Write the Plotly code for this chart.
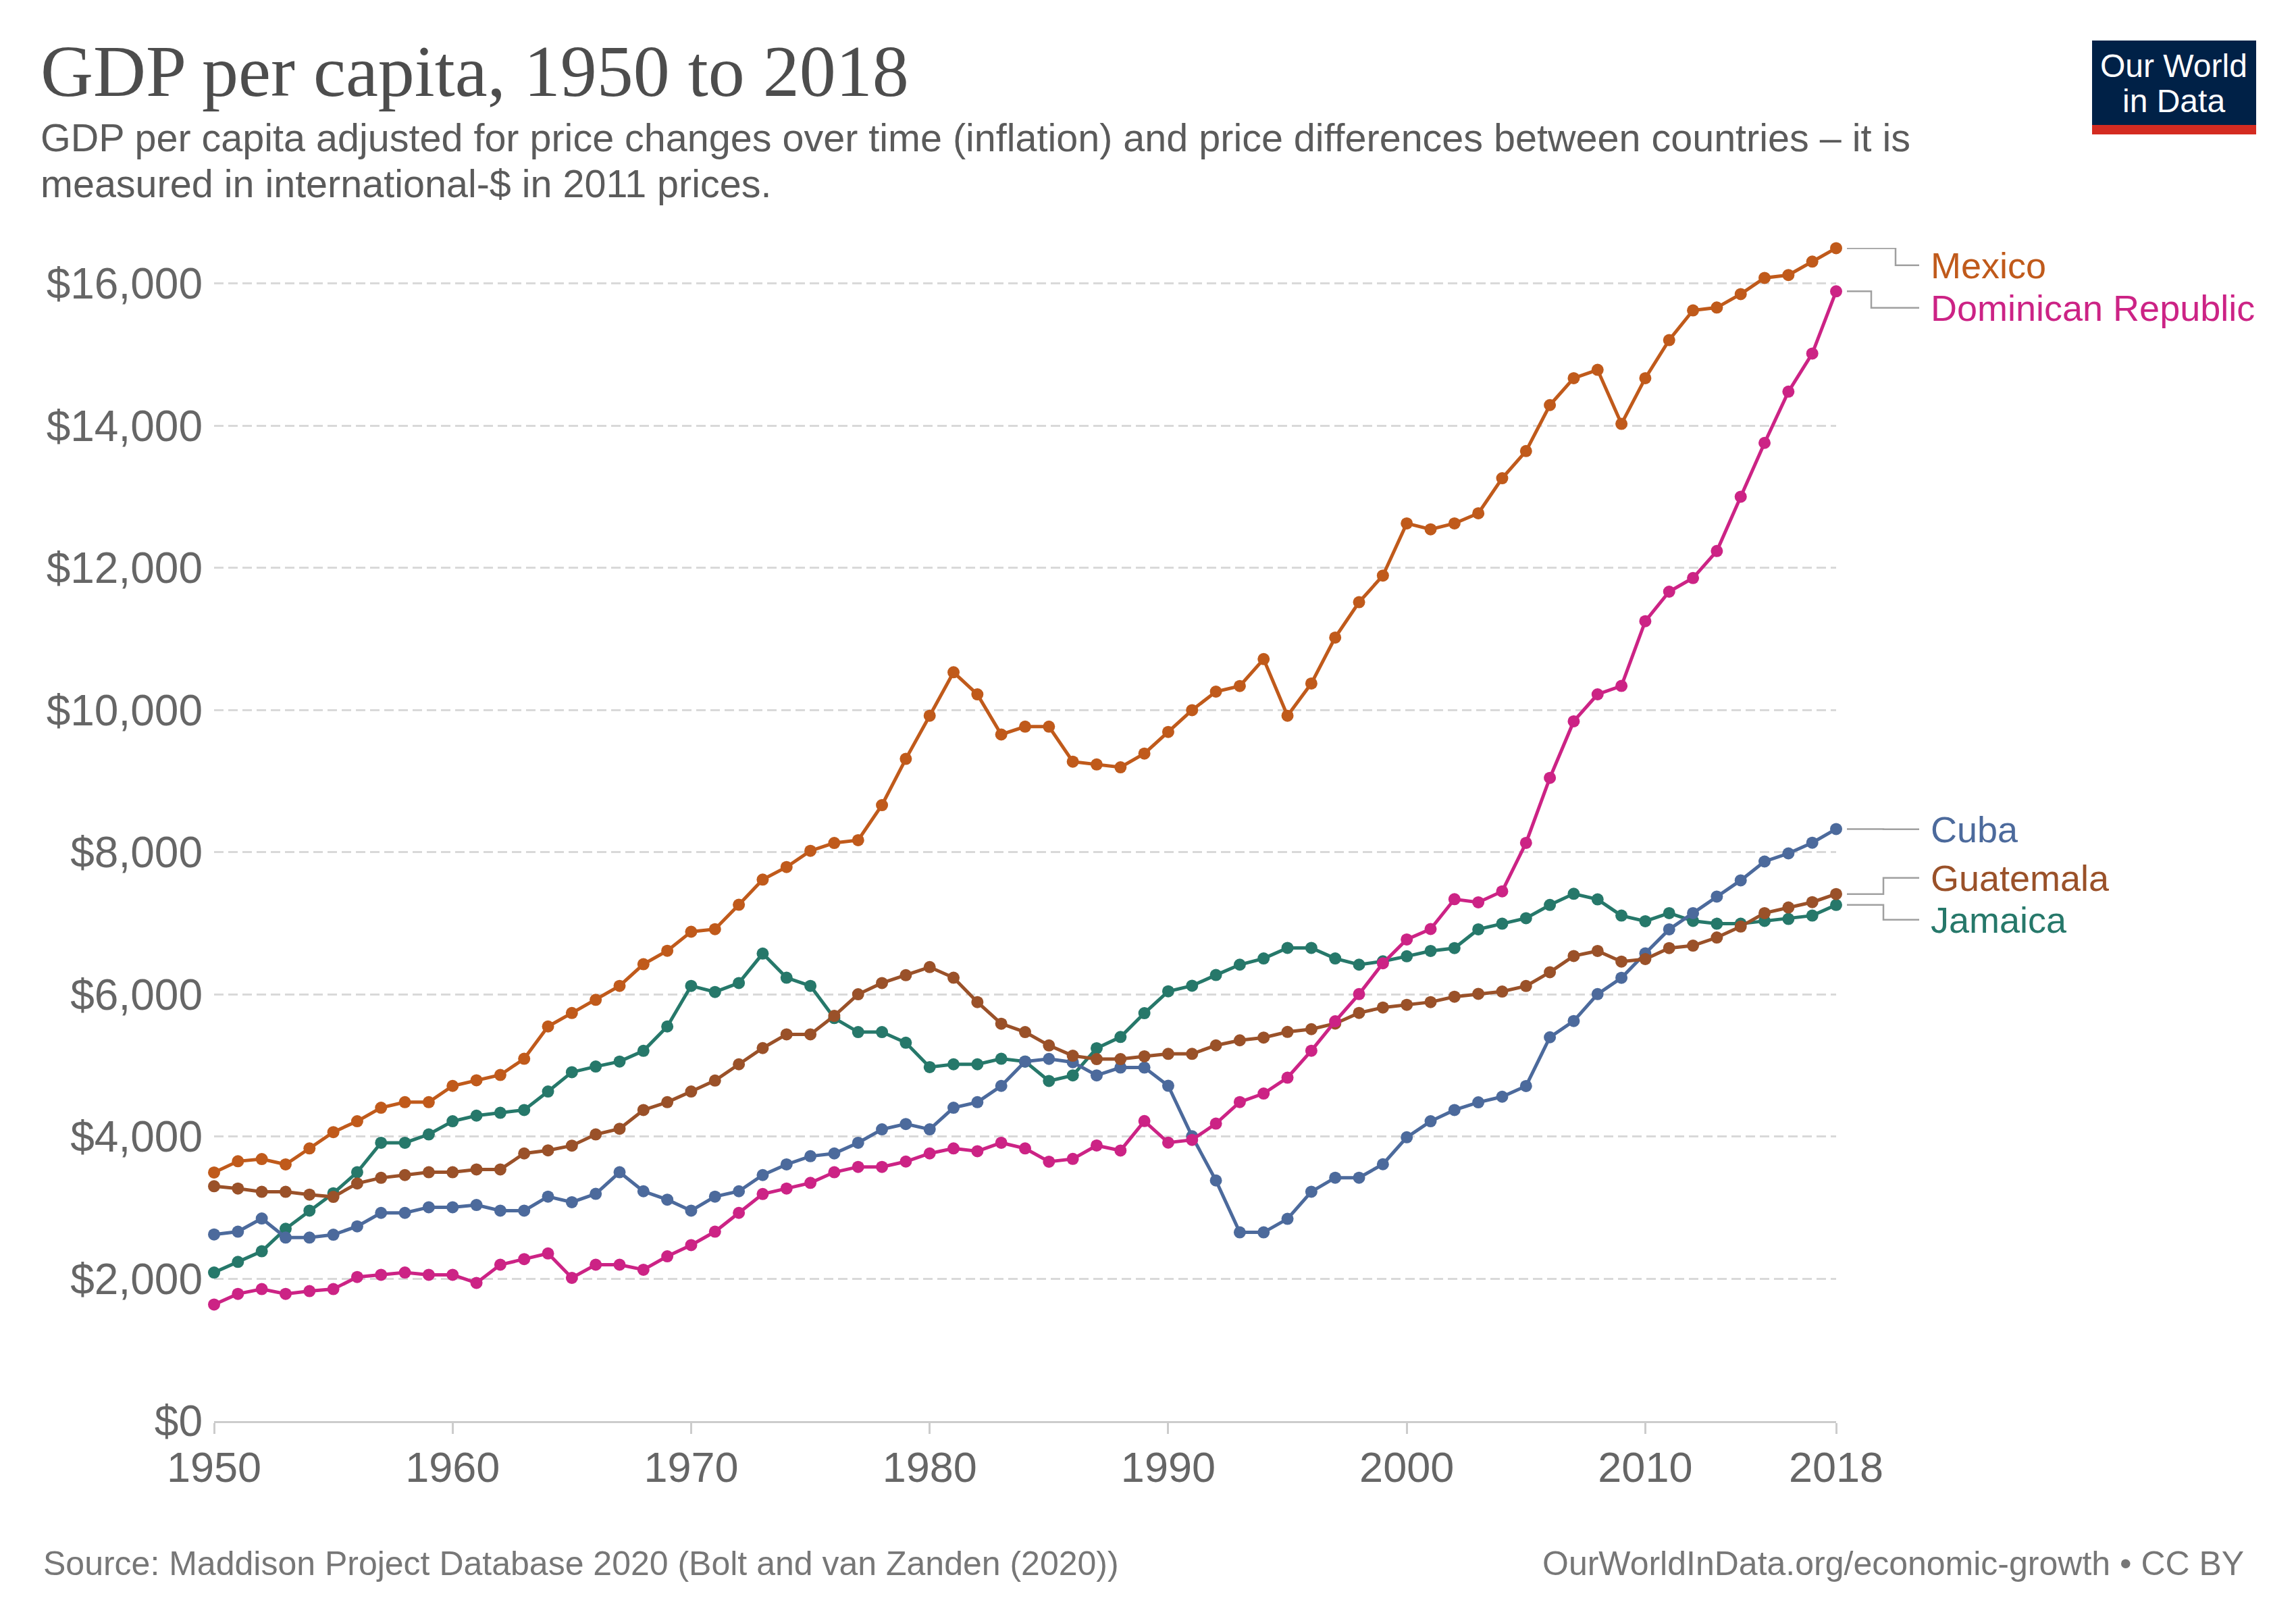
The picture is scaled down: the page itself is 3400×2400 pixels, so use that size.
import plotly.graph_objects as go

# ---------------- data ----------------
years = list(range(1950, 2019))

mexico = [3496, 3654, 3685, 3610, 3835, 4064, 4217, 4407, 4485, 4485,
          4714, 4793, 4868, 5096, 5550, 5739, 5924, 6121, 6425, 6614,
          6882, 6918, 7261, 7615, 7792, 8020, 8131, 8170, 8663, 9313,
          9920, 10531, 10220, 9656, 9767, 9767, 9274, 9235, 9195, 9388,
          9692, 9999, 10259, 10338, 10717, 9920, 10374, 11020, 11517, 11891,
          12625, 12542, 12625, 12767, 13260, 13642, 14289, 14667, 14785, 14025,
          14667, 15203, 15621, 15661, 15850, 16078, 16118, 16307, 16496]

dominican_republic = [1639, 1789, 1856, 1789, 1828, 1856, 2026, 2057, 2089, 2057,
                      2057, 1943, 2199, 2278, 2357, 2014, 2199, 2199, 2128, 2317,
                      2475, 2664, 2928, 3193, 3271, 3350, 3500, 3575, 3575, 3650,
                      3764, 3835, 3796, 3914, 3835, 3648, 3687, 3876, 3805, 4219,
                      3916, 3955, 4184, 4487, 4606, 4830, 5209, 5623, 6005, 6439,
                      6774, 6920, 7340, 7296, 7450, 8132, 9046, 9842, 10221, 10339,
                      11250, 11665, 11857, 12237, 13000, 13757, 14478, 15014, 15889]

cuba = [2625, 2664, 2849, 2581, 2581, 2621, 2739, 2928, 2928, 3007,
        3007, 3039, 2960, 2960, 3157, 3078, 3196, 3500, 3232, 3114,
        2960, 3157, 3232, 3460, 3610, 3725, 3764, 3914, 4103, 4178,
        4103, 4407, 4485, 4714, 5057, 5094, 5047, 4862, 4972, 4972,
        4716, 4006, 3384, 2654, 2654, 2844, 3226, 3423, 3423, 3612,
        3991, 4217, 4375, 4483, 4562, 4712, 5398, 5627, 6005, 6234,
        6577, 6916, 7144, 7377, 7605, 7870, 7984, 8134, 8327]

guatemala = [3303, 3271, 3224, 3224, 3185, 3153, 3342, 3421, 3460, 3500,
             3500, 3539, 3539, 3764, 3807, 3874, 4032, 4111, 4375, 4485,
             4635, 4789, 5018, 5246, 5439, 5439, 5699, 6003, 6161, 6271,
             6385, 6236, 5893, 5589, 5471, 5283, 5138, 5091, 5091, 5130,
             5165, 5165, 5284, 5355, 5394, 5473, 5512, 5591, 5741, 5816,
             5855, 5893, 5968, 6009, 6041, 6119, 6313, 6541, 6612, 6462,
             6498, 6652, 6687, 6801, 6955, 7144, 7223, 7298, 7412]

jamaica = [2089, 2239, 2388, 2704, 2960, 3204, 3500, 3914, 3914, 4032,
           4217, 4296, 4336, 4375, 4635, 4907, 4986, 5057, 5207, 5550,
           6121, 6035, 6161, 6575, 6236, 6121, 5668, 5471, 5471, 5321,
           4978, 5018, 5018, 5096, 5057, 4783, 4862, 5244, 5402, 5737,
           6044, 6123, 6273, 6419, 6506, 6655, 6655, 6506, 6419, 6466,
           6537, 6612, 6652, 6916, 6995, 7073, 7259, 7416, 7337, 7109,
           7030, 7144, 7034, 6995, 6995, 7034, 7062, 7109, 7259]

country_names = ["Jamaica", "Cuba", "Guatemala", "Dominican Republic", "Mexico"]
series = [jamaica, cuba, guatemala, dominican_republic, mexico]

x_tick_values = [1950, 1960, 1970, 1980, 1990, 2000, 2010, 2018]
y_tick_values = [0, 2000, 4000, 6000, 8000, 10000, 12000, 14000, 16000]
y_tick_labels = ["$0", "$2,000", "$4,000", "$6,000", "$8,000", "$10,000",
                 "$12,000", "$14,000", "$16,000"]

# ---------------- styles / layout ----------------
colors = {
    "Mexico": "#C05A1B",
    "Dominican Republic": "#CC2385",
    "Cuba": "#4C6A9C",
    "Guatemala": "#9A5129",
    "Jamaica": "#26786A",
}
# label vertical positions (in data units) after de-overlapping
label_y = {
    "Mexico": 16256,
    "Dominican Republic": 15658,
    "Cuba": 8323,
    "Guatemala": 7639,
    "Jamaica": 7050,
}
# elbow x position of connector (pixels)
elbow_px = {
    "Mexico": 2807,
    "Dominican Republic": 2771,
    "Cuba": 2789,
    "Guatemala": 2789,
    "Jamaica": 2789,
}

W, H = 3400, 2400
L, R, T, B = 317, 2719, 367, 2104  # plot area in pixels
Y_MAX = 16500


def fx(px):
    return (px - L) / (R - L)


def fy(py):
    return (B - py) / (B - T)


SANS = "Liberation Sans, Arial, sans-serif"
SERIF = "Liberation Serif, Times New Roman, serif"

fig = go.Figure()
for name, vals in zip(country_names, series):
    fig.add_trace(go.Scatter(
        x=years, y=vals, name=name, mode="lines+markers",
        line=dict(color=colors[name], width=5),
        marker=dict(color=colors[name], size=18),
        cliponaxis=False, showlegend=False,
    ))

annotations = []
shapes = []

# end labels and connectors
for name, vals in zip(country_names, series):
    annotations.append(dict(
        x=fx(2857), xref="paper", y=label_y[name], yref="y",
        xanchor="left", yanchor="middle", text=name, showarrow=False,
        font=dict(family=SANS, size=54, color=colors[name]),
    ))
    x0 = fx(2735)
    xe = fx(elbow_px[name])
    x1 = fx(2842)
    shapes.append(dict(
        type="path", xref="paper", yref="y",
        path=f"M {x0},{vals[-1]} L {xe},{vals[-1]} L {xe},{label_y[name]} L {x1},{label_y[name]}",
        line=dict(color="#a0a0a0", width=2.5),
    ))

# title & subtitle
annotations.append(dict(
    x=fx(58), y=fy(106), xref="paper", yref="paper", xanchor="left", yanchor="middle",
    text="GDP per capita, 1950 to 2018", showarrow=False,
    font=dict(family=SERIF, size=108, color="#4d4d4d"),
))
annotations.append(dict(
    x=fx(58), y=fy(204), xref="paper", yref="paper", xanchor="left", yanchor="middle",
    text="GDP per capita adjusted for price changes over time (inflation) and price differences between countries \u2013 it is",
    showarrow=False, font=dict(family=SANS, size=57.5, color="#5b5b5b"),
))
annotations.append(dict(
    x=fx(58), y=fy(272), xref="paper", yref="paper", xanchor="left", yanchor="middle",
    text="measured in international-$ in 2011 prices.",
    showarrow=False, font=dict(family=SANS, size=57.5, color="#5b5b5b"),
))

# footer
annotations.append(dict(
    x=fx(62), y=fy(2315), xref="paper", yref="paper", xanchor="left", yanchor="middle",
    text="Source: Maddison Project Database 2020 (Bolt and van Zanden (2020))",
    showarrow=False, font=dict(family=SANS, size=50, color="#777777"),
))
annotations.append(dict(
    x=fx(3325), y=fy(2315), xref="paper", yref="paper", xanchor="right", yanchor="middle",
    text="OurWorldInData.org/economic-growth \u2022 CC BY",
    showarrow=False, font=dict(family=SANS, size=50, color="#777777"),
))

# logo
shapes.append(dict(type="rect", xref="paper", yref="paper",
                   x0=fx(3098), x1=fx(3341), y0=fy(60), y1=fy(186),
                   fillcolor="#002147", line=dict(width=0)))
shapes.append(dict(type="rect", xref="paper", yref="paper",
                   x0=fx(3098), x1=fx(3341), y0=fy(185), y1=fy(199),
                   fillcolor="#D42B21", line=dict(width=0)))
annotations.append(dict(
    x=fx(3219), y=fy(98), xref="paper", yref="paper", xanchor="center", yanchor="middle",
    text="Our World", showarrow=False, font=dict(family=SANS, size=48, color="white"),
))
annotations.append(dict(
    x=fx(3219), y=fy(150), xref="paper", yref="paper", xanchor="center", yanchor="middle",
    text="in Data", showarrow=False, font=dict(family=SANS, size=48, color="white"),
))

fig.update_layout(
    width=W, height=H,
    margin=dict(l=L, r=W - R, t=T, b=H - B, pad=0),
    paper_bgcolor="white", plot_bgcolor="white",
    font=dict(family=SANS, color="#666666"),
    annotations=annotations, shapes=shapes,
    xaxis=dict(
        range=[1950, 2018], tickvals=x_tick_values,
        ticktext=[str(v) for v in x_tick_values],
        showgrid=False, zeroline=False,
        showline=True, linecolor="#cccccc", linewidth=3,
        ticks="outside", ticklen=16, tickwidth=3, tickcolor="#cccccc",
        ticklabelstandoff=-5,
        tickfont=dict(family=SANS, size=63, color="#666666"),
        fixedrange=True,
    ),
    yaxis=dict(
        range=[0, Y_MAX], tickvals=y_tick_values, ticktext=y_tick_labels,
        showgrid=True, gridcolor="#d9d9d9", gridwidth=3, griddash="14px,7px",
        zeroline=False, showline=False, ticks="",
        ticklabelstandoff=16,
        tickfont=dict(family=SANS, size=64, color="#666666"),
        fixedrange=True,
    ),
)

fig.write_html("out.html", config={"displayModeBar": False},
               post_script="document.body.style.margin='0px';")
